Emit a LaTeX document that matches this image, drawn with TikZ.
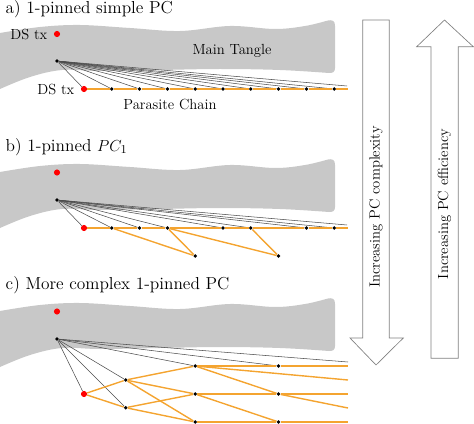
\documentclass[tikz,border=0pt]{standalone}
\usepackage{amsmath, amssymb}
\usepackage{tikz}
\usetikzlibrary{arrows.meta,positioning,calc}
\usepackage{xcolor}
\tikzset{>=Stealth}

\begin{document}
\begin{tikzpicture}[x=0.75pt, y=-0.75pt,
  font=\fontsize{11}{13}\selectfont,
  dot/.style={circle,fill=black,inner sep=0pt,minimum size=2.8pt},
  dstx/.style={circle,fill=red,inner sep=0pt,minimum size=4.6pt},
  wire/.style={draw=black!70,line width=0.4pt},
  pcline/.style={draw=pcorange,line width=1.05pt},
  tangle/.style={fill=tanglegray},
  bigarrow/.style={draw=gray,fill=white,line width=0.5pt},
  title/.style={anchor=base west,font=\fontsize{13}{15}\selectfont}]
\definecolor{pcorange}{HTML}{F4A430}
\definecolor{tanglegray}{HTML}{C8C8C8}
\useasboundingbox (0,0) rectangle (474,424);

% Main tangle (una por panel)
\foreach \yy in {61,200,339} {
  \fill[tangle,shift={(0,\yy)}]
    plot[smooth,tension=0.6] coordinates {(0,-28) (40,-34) (80,-36) (130,-33) (180,-30) (230,-35) (275,-32) (305,-35) (326,-40)}
    .. controls (333,-42) and (335,-40) .. (335,-35) -- (335,7)
    .. controls (335,11) and (333,12) .. (329,12)
    -- plot[smooth,tension=0.6] coordinates {(329,12) (280,9) (220,8) (160,9) (100,10) (62,9) (30,16) (0,28)} -- cycle;
}

% a) 1-pinned simple PC
\node[title] (ta) at (1,13.5) {a) 1-pinned simple PC};
\node[dstx] (ads) at (57,34) {};
\node[anchor=base east] (adsl) at (52,40) {DS tx};
\node[anchor=base] (mt) at (232,54.5) {Main Tangle};
\node[dot] (ap) at (57,61) {};
\node[dstx] (a0) at (84,89) {};
\node[anchor=base east] (a0l) at (79,95) {DS tx};
\foreach \k in {1,...,9} {\node[dot] (a\k) at ({84+27.8*\k},89) {};}
\coordinate (aend) at (348,89);
\coordinate (atop) at (347,86);
\node[anchor=base] (pc) at (170,110) {Parasite Chain};
\foreach \k in {0,...,9} {\draw[wire] (ap) -- (a\k);}
\draw[wire] (ap) -- (atop);
\foreach \k [count=\j from 1] in {0,...,8} {\draw[pcline] (a\k) -- (a\j);}
\draw[pcline] (a9) -- (aend);

% b) 1-pinned PC_1
\node[title] (tb) at (1,151.5) {b) 1-pinned $PC_1$};
\node[dstx] (bds) at (57,172.5) {};
\node[dot] (bp) at (57,200) {};
\node[dstx] (b0) at (84,228) {};
\foreach \k in {1,2,3,5,6,8,9} {\node[dot] (b\k) at ({84+27.8*\k},228) {};}
\node[dot] (bd1) at (195.2,256) {};
\node[dot] (bd2) at (278.6,256) {};
\coordinate (bend) at (348,228);
\coordinate (btop) at (347,225);
\foreach \k in {0,1,2,3,5,6,8,9} {\draw[wire] (bp) -- (b\k);}
\draw[wire] (bp) -- (btop);
\foreach \k/\j in {0/1,1/2,2/3,3/5,5/6,6/8,8/9} {\draw[pcline] (b\k) -- (b\j);}
\draw[pcline] (b9) -- (bend);
\foreach \k/\d in {1/bd1,3/bd1,3/bd2,6/bd2} {\draw[pcline] (b\k) -- (\d);}

% c) More complex 1-pinned PC
\node[title] (tc) at (1,289.5) {c) More complex 1-pinned PC};
\node[dstx] (cds) at (57,311.5) {};
\node[dot] (cp) at (57,339) {};
\node[dstx] (c0) at (84,394) {};
\node[dot] (c1a) at (125.7,380) {};
\node[dot] (c1b) at (125.7,407.7) {};
\foreach \r/\y in {a/366,b/394,c/422} {
  \node[dot] (c2\r) at (195.2,\y) {};
  \node[dot] (c3\r) at (278.6,\y) {};
}
\foreach \i/\y in {0/362,1/366,2/380,3/394,4/408,5/422} {\coordinate (ce\i) at (348,\y);}
\foreach \n in {c0,c1a,c1b,c2a,c3a,ce0} {\draw[wire] (cp) -- (\n);}
\foreach \s/\t in {c0/c1a,c0/c1b,c1a/c2a,c1a/c2b,c1a/c2c,c1b/c2b,c1b/c2c,
  c2a/c3a,c2a/ce2,c2a/c3b,c2b/c3b,c2b/c3c,c2c/c3c,
  c3a/ce1,c3b/ce3,c3b/ce4,c3c/ce5} {\draw[pcline] (\s) -- (\t);}

% Flechas
\draw[bigarrow] (362.7,20) -- (389.3,20) -- (389.3,338) -- (403.3,338) -- (376,365) -- (350,338) -- (362.7,338) -- cycle;
\draw[bigarrow] (431,358.3) -- (458.3,358.3) -- (458.3,46.7) -- (473.3,46.7) -- (444.5,20) -- (416.7,46.7) -- (431,46.7) -- cycle;
\node[rotate=90] (cplx) at (376,207) {Increasing PC complexity};
\node[rotate=90] (effc) at (444.5,204) {Increasing PC efficiency};

\end{tikzpicture}
\end{document}
